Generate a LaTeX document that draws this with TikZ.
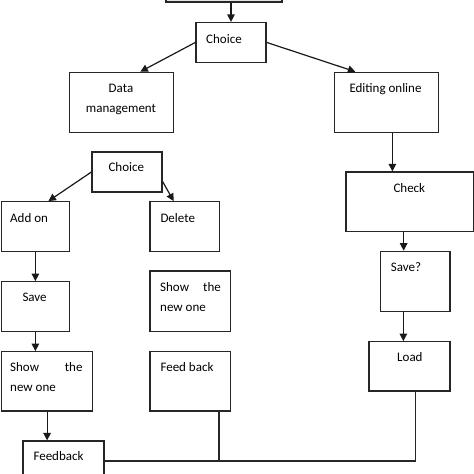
\documentclass[tikz,border=0pt]{standalone}
\usepackage{fontspec}
\setmainfont{Carlito}
\usetikzlibrary{arrows.meta,fit}
\tikzset{
  box/.style={draw=black!85, line width=1.2pt, inner sep=0pt, rectangle},
  topbox/.style={box, fill=black!10},
  txt/.style={inner sep=0pt, font=\fontsize{13}{20}\selectfont, text=black},
  arr/.style={draw=black!90, line width=1.2pt, -{Triangle[length=7.5pt,width=7.5pt]}},
  ln/.style={draw=black!85, line width=1.2pt}
}
\begin{document}
\begin{tikzpicture}[x=1pt,y=-1pt]
\useasboundingbox (0,0) rectangle (474,474);
% boxes
\node[topbox, fit={(166,-12) (282,2)}] (top) {};
\node[box, fit={(196,22.5) (266,62.3)}] (ch1) {};
\node[box, fit={(69.3,72.3) (173.3,132.3)}] (dm) {};
\node[box, fit={(334.5,72.3) (438.3,132.3)}] (eo) {};
\node[box, fit={(346,172) (473.3,231.7)}] (ck) {};
\node[box, fit={(380.7,251.3) (450,311.7)}] (sv) {};
\node[box, fit={(369,341.7) (450,391)}] (ld) {};
\node[box, fit={(92,152) (162,192)}] (ch2) {};
\node[box, fit={(1.5,201.7) (69.3,251.7)}] (add) {};
\node[box, fit={(150,201.7) (219.3,251.7)}] (del) {};
\node[box, fit={(1.5,281.7) (69.3,331.7)}] (save) {};
\node[box, fit={(150,271) (230.7,331.7)}] (shr) {};
\node[box, fit={(1.5,351.7) (92.7,411)}] (shl) {};
\node[box, fit={(150,351.7) (230.7,411)}] (fb2) {};
\node[box, fit={(23,441) (104,481)}] (fb) {};
% texts
\node[txt, anchor=base west] (tch1) at (206,43.3) {Choice};
\node[txt, anchor=base] (tdm) at (121,92.7) {\begin{tabular}[t]{@{}c@{}}Data\\management\end{tabular}};
\node[txt, anchor=base west] (teo) at (349.3,92.3) {Editing online};
\node[txt, anchor=base west] (tck) at (393.3,192.3) {Check};
\node[txt, anchor=base west] (tsv) at (390.7,271.7) {Save?};
\node[txt, anchor=base west] (tld) at (397,361) {Load};
\node[txt, anchor=base west] (tch2) at (108.3,171.7) {Choice};
\node[txt, anchor=base west] (tadd) at (10,222) {Add on};
\node[txt, anchor=base west] (tdel) at (160.3,222) {Delete};
\node[txt, anchor=base west] (tsave) at (22.3,301.7) {Save};
\node[txt, anchor=base west] (tshr) at (160,291) {\begin{tabular}[t]{@{}l@{}}\makebox[60.7pt][s]{Show\hfill the}\\new one\end{tabular}};
\node[txt, anchor=base west] (tshl) at (10,371.7) {\begin{tabular}[t]{@{}l@{}}\makebox[72.3pt][s]{Show\hfill the}\\new one\end{tabular}};
\node[txt, anchor=base west] (tfb2) at (160.3,371.7) {Feed back};
\node[txt, anchor=base west] (tfb) at (33.3,460) {Feedback};
% connectors
\draw[arr] (top.south -| ch1.north) -- (ch1.north);
\draw[arr] (ch1.west) -- ([xshift=19pt]dm.north);
\draw[arr] (ch1.east) -- ([xshift=-31pt]eo.north);
\draw[arr] ([xshift=6pt]eo.south) -- ([xshift=6pt]eo.south |- ck.north);
\draw[arr] ([xshift=-6pt]ck.south) -- ([xshift=-6pt]ck.south |- sv.north);
\draw[arr] ([xshift=-12pt]sv.south) -- ([xshift=-12pt]sv.south |- ld.north);
\draw[arr] (ch2.west) -- ([xshift=13pt]add.north);
\draw[arr] ([yshift=-9.5pt]ch2.east) -- ([xshift=-11pt]del.north);
\draw[arr] (add.south) -- (add.south |- save.north);
\draw[arr] (save.south) -- (save.south |- shl.north);
\draw[arr] (shl.south) -- (shl.south |- fb.north);
\coordinate (c) at (415.3,461);
\draw[ln] (fb.east) -- (c) -- (c |- ld.south);
\draw[ln] ([xshift=28.7pt]fb2.south) -- ([xshift=28.7pt]fb2.south |- fb.east);
\end{tikzpicture}
\end{document}
